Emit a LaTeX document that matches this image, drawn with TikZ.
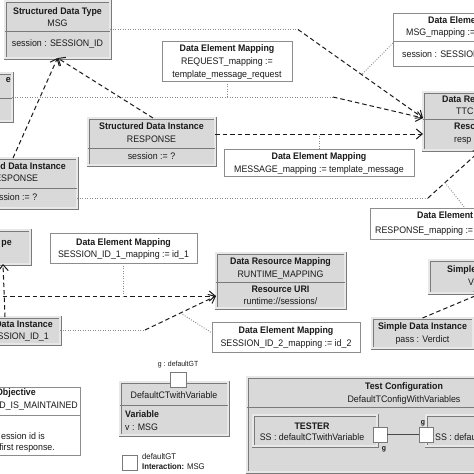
\documentclass[tikz,border=0pt]{standalone}
\usepackage{fontspec}
\setmainfont{Liberation Sans}[FakeStretch=0.93]
\usetikzlibrary{calc,arrows.meta}
\definecolor{boxgray}{HTML}{D9D9D9}
\definecolor{bandgray}{HTML}{E8E8E8}
\definecolor{bordergray}{HTML}{7A7A7A}
\definecolor{notegray}{HTML}{8C8C8C}
\definecolor{inkgray}{HTML}{1A1A1A}
\tikzset{
  box/.style={draw=bordergray, line width=0.7pt, double=bandgray, double distance=1.6pt,
    fill=boxgray, inner sep=0pt, outer sep=0pt, anchor=north west},
  notebox/.style={draw=notegray, line width=0.9pt, fill=white, inner sep=0pt, outer sep=0pt, anchor=north west},
  gatebox/.style={draw=bordergray, line width=0.8pt, fill=white, inner sep=0pt, outer sep=0pt, anchor=north west},
  txt/.style={inner sep=0pt, text=inkgray, font=\fontsize{9.5}{11}\selectfont, text height=7pt, text depth=1.6pt},
  btxt/.style={txt, font=\fontsize{9.5}{11}\selectfont\bfseries},
  stxt/.style={inner sep=0pt, text=inkgray, font=\fontsize{8.3}{10}\selectfont, text height=6pt, text depth=1.4pt},
  gtxt/.style={inner sep=0pt, text=inkgray, font=\fontsize{7.4}{9}\selectfont, text height=5.4pt, text depth=1.3pt},
  divider/.style={draw=bordergray, line width=0.9pt},
  dotln/.style={draw=notegray, line width=0.9pt, dash pattern=on 0.9pt off 1.6pt},
  mapping/.style={draw=inkgray, line width=1pt, dash pattern=on 4.5pt off 3pt,
    -{Straight Barb[length=6pt,width=10pt]}},
  gateline/.style={draw=inkgray!80, line width=0.9pt},
}
\begin{document}
\begin{tikzpicture}[x=1pt,y=-1pt]
\useasboundingbox (0,0) rectangle (474,474);
\fill[white] (0,0) rectangle (474,474);
\clip (0,0) rectangle (474,474);

% ---------- boxes ----------
\node[box, minimum width=105pt, minimum height=57pt] (msgtype) at (5,1) {};
\draw[divider] ($(msgtype.north west)+(0,30)$) -- ($(msgtype.north east)+(0,30)$);
\node[btxt] (msgtype-a) at (57.5,12) {Structured Data Type};
\node[txt] (msgtype-b) at (57.5,24) {MSG};
\node[txt] (msgtype-c) at (57.5,44) {session : SESSION\_ID};

\node[box, minimum width=72pt, minimum height=48pt] (lefttype1) at (-60,73) {};
\draw[divider] ($(lefttype1.north west)+(0,25)$) -- ($(lefttype1.north east)+(0,25)$);
\node[btxt, anchor=east] (lefttype1-a) at (11,80) {e};

\node[notebox, minimum width=130pt, minimum height=40pt] (reqnote) at (162,41) {};
\node[btxt] (reqnote-a) at (227,49) {Data Element Mapping};
\node[txt] (reqnote-b) at (227,62) {REQUEST\_mapping :=};
\node[txt] (reqnote-c) at (227,75) {template\_message\_request};

\node[notebox, minimum width=180pt, minimum height=53pt] (msgnote) at (393,13) {};
\draw[dotln, solid, draw=notegray] ($(msgnote.north west)+(0,28)$) -- ($(msgnote.north east)+(0,28)$);
\node[btxt, anchor=west] (msgnote-a) at (428,21) {Data Element Mapping};
\node[txt, anchor=west] (msgnote-b) at (406,33) {MSG\_mapping :=};
\node[txt, anchor=west] (msgnote-c) at (402,55) {session : SESSION\_ID};

\node[box, minimum width=100pt, minimum height=58pt] (datares) at (423,92) {};
\draw[divider] ($(datares.north west)+(0,27)$) -- ($(datares.north east)+(0,27)$);
\node[btxt, anchor=west] (datares-a) at (442,100) {Data Resource Mapping};
\node[txt, anchor=west] (datares-b) at (456,112) {TTC};
\node[btxt, anchor=west] (datares-c) at (454,127) {Resource URI};
\node[txt, anchor=west] (datares-d) at (454,140) {resp};

\node[box, minimum width=127pt, minimum height=47pt] (resp) at (88,118) {};
\draw[divider] ($(resp.north west)+(0,30)$) -- ($(resp.north east)+(0,30)$);
\node[btxt] (resp-a) at (151.5,127) {Structured Data Instance};
\node[txt] (resp-b) at (151.5,140) {RESPONSE};
\node[txt] (resp-c) at (151.5,157) {session := ?};

\node[box, minimum width=127pt, minimum height=50pt] (resp2) at (-50,158) {};
\draw[divider] ($(resp2.north west)+(0,30)$) -- ($(resp2.north east)+(0,30)$);
\node[btxt] (resp2-a) at (13.5,167) {Structured Data Instance};
\node[txt] (resp2-b) at (13.5,179) {RESPONSE};
\node[txt] (resp2-c) at (13.5,198) {session := ?};

\node[notebox, minimum width=190pt, minimum height=27pt] (msgrespnote) at (224,149) {};
\node[btxt] (msgrespnote-a) at (319,157) {Data Element Mapping};
\node[txt] (msgrespnote-b) at (319,170) {MESSAGE\_mapping := template\_message};

\node[notebox, minimum width=200pt, minimum height=31pt] (respmapnote) at (370,208) {};
\node[btxt, anchor=west] (respmapnote-a) at (417,216) {Data Element Mapping};
\node[txt, anchor=west] (respmapnote-b) at (375,231) {RESPONSE\_mapping :=};

\node[box, minimum width=90pt, minimum height=34pt] (lefttype2) at (-60,230) {};
\node[btxt, anchor=east] (lefttype2-a) at (12,243) {pe};

\node[notebox, minimum width=147pt, minimum height=30pt] (sess1note) at (50,233) {};
\node[btxt] (sess1note-a) at (123.5,243) {Data Element Mapping};
\node[txt] (sess1note-b) at (123.5,255) {SESSION\_ID\_1\_mapping := id\_1};

\node[box, minimum width=120pt, minimum height=27pt] (sess1) at (-60,317) {};
\node[btxt, anchor=east] (sess1-a) at (53,325) {Data Instance};
\node[txt, anchor=east] (sess1-b) at (49,337) {SESSION\_ID\_1};

\node[box, minimum width=129pt, minimum height=55pt] (runtime) at (216,253) {};
\draw[divider] ($(runtime.north west)+(0,29)$) -- ($(runtime.north east)+(0,29)$);
\node[btxt] (runtime-a) at (280.5,262) {Data Resource Mapping};
\node[txt] (runtime-b) at (280.5,275) {RUNTIME\_MAPPING};
\node[btxt] (runtime-c) at (280.5,290) {Resource URI};
\node[txt] (runtime-d) at (280.5,302) {runtime://sessions/};

\node[notebox, minimum width=148pt, minimum height=30pt] (sess2note) at (212,322) {};
\node[btxt] (sess2note-a) at (286,331) {Data Element Mapping};
\node[txt] (sess2note-b) at (286,344) {SESSION\_ID\_2\_mapping := id\_2};

\node[box, minimum width=100pt, minimum height=33pt] (simpletype) at (429,260) {};
\node[btxt, anchor=west] (simpletype-a) at (447,270) {Simple Data Type};
\node[txt, anchor=west] (simpletype-b) at (468,283) {Verdict};

\node[box, minimum width=101pt, minimum height=30pt] (passinst) at (372,318) {};
\node[btxt] (passinst-a) at (422.5,327) {Simple Data Instance};
\node[txt] (passinst-b) at (422.5,340) {pass : Verdict};

% ---------- bottom row ----------
\node[notebox, minimum width=160pt, minimum height=68pt] (objective) at (-80,387) {};
\draw[draw=notegray, line width=0.9pt] ($(objective.north west)+(0,28)$) -- ($(objective.north east)+(0,28)$);
\node[btxt, anchor=east] (objective-a) at (36,393) {Objective};
\node[txt, anchor=east] (objective-b) at (78,406) {ID\_IS\_MAINTAINED};
\node[txt, anchor=east] (objective-c) at (45,437) {ession id is};
\node[txt, anchor=east] (objective-d) at (55,448) {first response.};

\node[box, minimum width=108pt, minimum height=53pt] (ct) at (120,382) {};
\draw[divider] ($(ct.north west)+(0,23)$) -- ($(ct.north east)+(0,23)$);
\node[txt] (ct-a) at (174,396) {DefaultCTwithVariable};
\node[btxt, anchor=west] (ct-b) at (125,415) {Variable};
\node[txt, anchor=west] (ct-c) at (125,428) {v : MSG};
\node[gatebox, minimum width=16pt, minimum height=15pt] (g0) at (170,372) {};
\node[gtxt] (g0-label) at (178,364) {g : defaultGT};

\node[gatebox, minimum width=15pt, minimum height=15pt] (legend) at (122,455) {};
\node[stxt, anchor=west] (legend-a) at (142,457.5) {defaultGT};
\node[stxt, anchor=west] (legend-b) at (142,467.5) {\textbf{Interaction:} MSG};

\node[box, minimum width=300pt, minimum height=95pt] (testconf) at (247,377) {};
\draw[divider] ($(testconf.north west)+(0,30)$) -- ($(testconf.north east)+(0,30)$);
\node[btxt] (testconf-a) at (404,387) {Test Configuration};
\node[txt] (testconf-b) at (404,400) {DefaultTConfigWithVariables};

\node[box, minimum width=124pt, minimum height=31pt] (tester) at (253,415) {};
\node[btxt] (tester-a) at (312,427) {TESTER};
\node[txt] (tester-b) at (312,438) {SS : defaultCTwithVariable};

\node[box, minimum width=120pt, minimum height=31pt] (sut) at (426,415) {};
\node[txt, anchor=west] (sut-b) at (435,438) {SS : defaultCTwithVariable};

\node[gatebox, minimum width=14pt, minimum height=15pt] (g1) at (373,427) {};
\node[gatebox, minimum width=14pt, minimum height=15pt] (g2) at (419,427) {};
\draw[gateline] (g1.east) -- (g2.west);
\node[gtxt, font=\fontsize{7.4}{9}\selectfont\bfseries] (g1-label) at (384,448) {g};
\node[gtxt, font=\fontsize{7.4}{9}\selectfont\bfseries] (g2-label) at (423,422) {g};

% ---------- connectors ----------
\coordinate (aS) at (298,29.5);
\coordinate (aE) at ($(datares.north west)+(0,26)$);
\draw[dotln] (msgtype.east) -- (aS);
\draw[mapping] (aS) -- (aE);
\draw[dotln] ($(msgnote.north west)+(0,30)$) -- ($(aS)!0.51!(aE)$);

\coordinate (bS) at (333,97);
\draw[dotln] (lefttype1.east) -- (bS);
\draw[mapping] (bS) -- (aE);
\draw[dotln] (reqnote.south) -- (reqnote.south |- bS);

\draw[mapping] ($(resp.north west)+(65,0)$) -- (msgtype.south);
\draw[mapping] ($(resp2.north west)+(63,0)$) -- (msgtype.south);

\coordinate (eS) at ($(resp.north east)+(0,16)$);
\coordinate (eE) at ($(datares.north west)+(0,42)$);
\draw[mapping] (eS) -- (eE);
\draw[dotln] (msgrespnote.north) -- (msgrespnote.north |- eS);

\coordinate (fS) at ($(resp2.north east)+(0,40)$);
\coordinate (fB) at (428,198);
\coordinate (fE) at ($(datares.south west)+(58,0)$);
\draw[dotln] (fS) -- (fB);
\draw[mapping] (fB) -- (fE);
\draw[dotln] ($(fB)!0.32!(fE)$) -- ($(respmapnote.north west)+(95,0)$);

\coordinate (gS) at (-20,296);
\coordinate (rIn) at ($(runtime.north west)+(0,43)$);
\draw[mapping] (gS) -- (rIn);
\draw[dotln] (sess1note.south) -- (sess1note.south |- gS);

\draw[mapping] ($(sess1.north east)+(-55,0)$) -- ($(lefttype2.south east)+(-27,0)$);

\coordinate (iS) at ($(sess1.north east)+(0,13)$);
\coordinate (iB) at (145,330);
\draw[dotln] (iS) -- (iB);
\draw[mapping] (iB) -- (rIn);
\draw[dotln] ($(iB)!0.5!(rIn)$) -- ($(sess2note.north west)+(0,11)$);

\draw[mapping] (passinst.north) -- ($(simpletype.south west)+(53,0)$);
\end{tikzpicture}
\end{document}
